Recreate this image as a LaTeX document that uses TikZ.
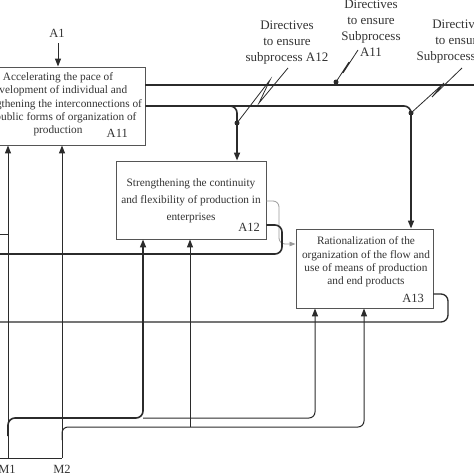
\documentclass[tikz,border=0pt]{standalone}
\usepackage{fontspec}
\setmainfont{Liberation Serif}
\usetikzlibrary{arrows.meta}
\definecolor{ln}{HTML}{2B2B2B}
\definecolor{tx}{HTML}{333333}
\definecolor{bx}{HTML}{555555}
\definecolor{gl}{HTML}{9A9A9A}
\begin{document}
\begin{tikzpicture}[x=1pt,y=-1pt,
  boxst/.style={draw=bx, line width=0.9pt, fill=white, rectangle, inner sep=0pt},
  boxtext/.style={align=center, text=tx, inner sep=0pt},
  lbl/.style={text=tx, inner sep=0pt, font=\fontsize{12.5}{14}\selectfont},
  dirtext/.style={align=center, text=tx, inner sep=0pt, font=\fontsize{13}{16}\selectfont},
  wire/.style={draw=ln, line width=1pt},
  thickwire/.style={draw=ln, line width=1.6pt},
  arr/.style={-{Triangle[length=8pt,width=6pt]}},
  sq/.style={draw=ln, line width=0.8pt},
  dotst/.style={circle, fill=ln, inner sep=0pt, minimum size=5pt}
]
\useasboundingbox (0,0) rectangle (474,474);
\clip (0,0) rectangle (474,474);

% boxes
\node[boxst, minimum width=174pt, minimum height=78pt] (b11) at (58,106) {};
\node[boxst, minimum width=150pt, minimum height=78pt] (b12) at (191,200) {};
\node[boxst, minimum width=137pt, minimum height=79pt] (b13) at (364.5,268.5) {};

\node[boxtext, font=\fontsize{11.3}{13.3}\selectfont] (t11) at (58,104.5)
  {Accelerating the pace of\\development of individual and\\strengthening the interconnections of\\\hspace*{16pt}public forms of organization of\\production};
\node[boxtext, font=\fontsize{11.3}{17}\selectfont] (t12) at (191,200.4)
  {Strengthening the continuity\\and flexibility of production in\\enterprises};
\node[boxtext, font=\fontsize{11.3}{13.3}\selectfont] (t13) at (366,262)
  {Rationalization of the\\organization of the flow and\\use of means of production\\and end products};

\node[lbl, anchor=east] (l11) at (128,133) {A11};
\node[lbl, anchor=east] (l12) at (260,227) {A12};
\node[lbl, anchor=east] (l13) at (424,298) {A13};

% labels
\node[lbl] (a1) at (57,33) {A1};
\node[lbl] (m1) at (7,469) {M1};
\node[lbl] (m2) at (62,469) {M2};
\node[dirtext] (dir12) at (287,43) {Directives\\to ensure\\subprocess A12};
\node[dirtext] (dir11) at (371,28) {Directives\\to ensure\\Subprocess\\A11};
\node[dirtext] (dir13) at (459,42) {Directives\\to ensure\\Subprocess A13};

% control input A1
\coordinate (a1s) at (58,43);
\draw[wire,arr] (a1s) -- (a1s |- b11.north);

% mechanisms
\coordinate (m1b) at (8,458);
\coordinate (m2b) at (62,458);
\coordinate (lft) at (-6,458);
\draw[wire] (lft) -- (m2b);
\draw[wire,arr] (m1b) -- (m1b |- b11.south);
\draw[wire,arr] (m2b) -- (m2b |- b11.south);

\coordinate (j1) at (143,418);
\coordinate (j3) at (315,418);
\coordinate (j2) at (190,427);
\coordinate (j4) at (364,427);
\draw[thickwire,arr,rounded corners=7pt] (8,436) -- (8,418) -- (j1) -- (j1 |- b12.south);
\draw[wire,arr,rounded corners=6pt] (j1) -- (j3) -- (j3 |- b13.south);
\draw[wire,arr,rounded corners=6pt] (62,440) -- (62,427) -- (j4) -- (j4 |- b13.south);
\draw[wire,arr] (j2) -- (j2 |- b12.south);

% left stub
\coordinate (ls) at (-6,234);
\coordinate (lsr) at (8,234);
\draw[wire] (ls) -- (lsr);

% A11 outputs
\coordinate (rt) at (480,85);
\draw[thickwire] ([yshift=21pt]b11.east) -- (rt);
\coordinate (k13) at (411,106);
\coordinate (k12) at (237,106);
\draw[thickwire,arr,rounded corners=7pt] (b11.east) -- (k13) -- (k13 |- b13.north);
\draw[thickwire,arr,rounded corners=7pt] (225,106) -- (k12) -- (k12 |- b12.north);

% dots and squiggles
\node[dotst] (d1) at (237,123) {};
\node[dotst] (d2) at (411,113) {};
\node[dotst] (d3) at (336,82) {};
\draw[sq] (288,68) -- (259,103) -- (270,80) -- (d1.center);
\draw[sq] (d3.center) -- (349,62) -- (343,73) -- (358,50);
\draw[sq] (462,68) -- (432,97) -- (444,83) -- (d2.center);

% A12 outputs
\draw[draw=gl, line width=0.8pt, -{Triangle[length=6pt,width=4.5pt]}, rounded corners=6pt]
  ([yshift=-1pt]b12.east) -- (279,201) -- (279,244) -- ([yshift=24.5pt]b13.west);
\coordinate (fb12) at (-6,254);
\draw[thickwire,rounded corners=7pt] ([yshift=-25pt]b12.east) -- (282,225) -- (282,254) -- (fb12);

% A13 output
\coordinate (fb13) at (-6,322);
\draw[draw=ln, line width=1.3pt, rounded corners=7pt] ([yshift=-25.5pt]b13.east) -- (448,294) -- (448,322) -- (fb13);
\end{tikzpicture}
\end{document}
